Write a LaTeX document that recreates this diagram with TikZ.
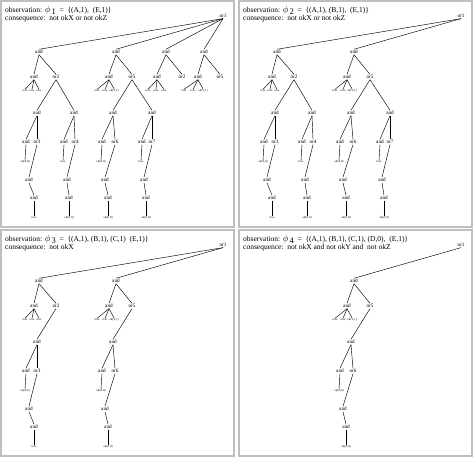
\documentclass[tikz,border=0pt]{standalone}
\usepackage{fontspec}
\setmainfont{Liberation Serif}

%% parts of the trees: name/label/x/y/style
\newcommand{\rootpart}{or1/or1/223/16/opnode}
\newcommand{\grpA}{a1/and/39/52/opnode, b1/and/34/77/opnode,
  b2/or2/56/77/opnode, l1/true/25/91/leafnode, l2/true/32/91/leafnode,
  l3/true/39/91/leafnode}
\newcommand{\grpAedges}{or1/a1, a1/b1, a1/b2, b1/l1, b1/l2, b1/l3}
\newcommand{\grpB}{a2/and/116/52/opnode, b3/and/109/77/opnode,
  b4/or5/132/77/opnode, l4/true/97/91/leafnode, l5/true/105/91/leafnode,
  l6/{ok(Y,1)}/114/91/leafnode}
\newcommand{\grpBedges}{or1/a2, a2/b3, a2/b4, b3/l4, b3/l5, b3/l6}
\newcommand{\grpC}{a3/and/166/52/opnode, b5/and/157/77/opnode,
  b6/or2/182/77/opnode, l7/true/148/91/leafnode, l8/true/156/91/leafnode,
  l9/true/164/91/leafnode, a4/and/204/52/opnode, b7/and/198/77/opnode,
  b8/or5/220/77/opnode, l10/true/184/91/leafnode, l11/true/193/91/leafnode,
  l12/{ok(Y,1)}/203/91/leafnode}
\newcommand{\grpCedges}{or1/a3, a3/b5, a3/b6, b5/l7, b5/l8, b5/l9,
  or1/a4, a4/b7, a4/b8, b7/l10, b7/l11, b7/l12}
\newcommand{\chainA}{c1/and/37/113/opnode, d1/and/26/142/opnode,
  d2/or3/37/142/opnode, e1/{ok(X,0)}/25/162/leafnode, f1/and/29/180/opnode,
  g1/and/34/198/opnode, h1/true/34/218/leafnode}
\newcommand{\chainAedges}{b2/c1, c1/d1, c1/d2, d1/e1, d2/f1, f1/g1, g1/h1}
\newcommand{\chainB}{c2/and/74/113/opnode, d3/and/64/142/opnode,
  d4/or4/75/142/opnode, e2/true/63/162/leafnode, f2/and/67/180/opnode,
  g2/and/69/198/opnode, h2/{ok(Z,0)}/69/218/leafnode}
\newcommand{\chainBedges}{b2/c2, c2/d3, c2/d4, d3/e2, d4/f2, f2/g2, g2/h2}
\newcommand{\chainC}{c3/and/113/113/opnode, d5/and/102/142/opnode,
  d6/or6/115/142/opnode, e3/{ok(X,0)}/101/162/leafnode, f3/and/105/180/opnode,
  g3/and/108/198/opnode, h3/{ok(Z,0)}/108/218/leafnode}
\newcommand{\chainCedges}{b4/c3, c3/d5, c3/d6, d5/e3, d6/f3, f3/g3, g3/h3}
\newcommand{\chainD}{c4/and/152/113/opnode, d7/and/142/142/opnode,
  d8/or7/152/142/opnode, e4/true/141/162/leafnode, f4/and/144/180/opnode,
  g4/and/146/198/opnode, h4/{ok(Z,0)}/146/218/leafnode}
\newcommand{\chainDedges}{b4/c4, c4/d7, c4/d8, d7/e4, d8/f4, f4/g4, g4/h4}

\newcommand{\drawnodes}[2]{%
  \foreach \nodename/\txt/\x/\y/\kind in #2
  {
    \node (#1\nodename) at (\x,\y) [\kind] {\txt};
  }%
}
\newcommand{\drawedges}[2]{%
  \path
  \foreach \startnode/\endnode in #2 {
    (#1\startnode.south) edge[linedecorate] (#1\endnode.north)
  };%
}
\newcommand{\obsphi}[1]{{\fontsize{9.5}{9.5}\selectfont$\phi$}\,%
  \raisebox{-2pt}{\fontsize{8.5}{8.5}\selectfont #1}}

\begin{document}
\begin{tikzpicture}
[x=1pt, y=-1pt,
  opnode/.style={font=\fontsize{5.2}{5.2}\selectfont, inner sep=0.7pt},
  leafnode/.style={font=\fontsize{3}{3}\selectfont, inner sep=0.6pt},
  headtext/.style={anchor=west, inner sep=0pt, font=\fontsize{7.5}{8}\selectfont},
  linedecorate/.style={-, line width=0.45pt},
  panelframe/.style={draw=gray!50, line width=1.5pt}]
\useasboundingbox (0,0) rectangle (474,458);
%% panel 1
\begin{scope}
  \draw[panelframe] (1,1) rectangle (234,227);
  \node (p1obs) [headtext] at (5,10)
    {observation: \obsphi{1}\ \ =\ \ \{(A,1),\ \ (E,1)\}};
  \node (p1cons) [headtext] at (5,19) {consequence:\ \ not okX or not okZ};
  \drawnodes{p1}{\rootpart}
  \drawnodes{p1}{\grpA}   \drawedges{p1}{\grpAedges}
  \drawnodes{p1}{\grpB}   \drawedges{p1}{\grpBedges}
  \drawnodes{p1}{\grpC}   \drawedges{p1}{\grpCedges}
  \drawnodes{p1}{\chainA} \drawedges{p1}{\chainAedges}
  \drawnodes{p1}{\chainB} \drawedges{p1}{\chainBedges}
  \drawnodes{p1}{\chainC} \drawedges{p1}{\chainCedges}
  \drawnodes{p1}{\chainD} \drawedges{p1}{\chainDedges}
\end{scope}
%% panel 2
\begin{scope}[shift={(238,0)}]
  \draw[panelframe] (1,1) rectangle (234,227);
  \node (p2obs) [headtext] at (5,10)
    {observation: \obsphi{2}\ \ =\ \ \{(A,1), (B,1),\ \ (E,1)\}};
  \node (p2cons) [headtext] at (5,19) {consequence:\ \ not okX or not okZ};
  \drawnodes{p2}{\rootpart}
  \drawnodes{p2}{\grpA}   \drawedges{p2}{\grpAedges}
  \drawnodes{p2}{\grpB}   \drawedges{p2}{\grpBedges}
  \drawnodes{p2}{\chainA} \drawedges{p2}{\chainAedges}
  \drawnodes{p2}{\chainB} \drawedges{p2}{\chainBedges}
  \drawnodes{p2}{\chainC} \drawedges{p2}{\chainCedges}
  \drawnodes{p2}{\chainD} \drawedges{p2}{\chainDedges}
\end{scope}
%% panel 3
\begin{scope}[shift={(0,229)}]
  \draw[panelframe] (1,1) rectangle (234,227);
  \node (p3obs) [headtext] at (5,10)
    {observation: \obsphi{3}\ \ =\ \ \{(A,1), (B,1), (C,1)\ \ (E,1)\}};
  \node (p3cons) [headtext] at (5,19) {consequence:\ \ not okX};
  \drawnodes{p3}{\rootpart}
  \drawnodes{p3}{\grpA}   \drawedges{p3}{\grpAedges}
  \drawnodes{p3}{\grpB}   \drawedges{p3}{\grpBedges}
  \drawnodes{p3}{\chainA} \drawedges{p3}{\chainAedges}
  \drawnodes{p3}{\chainC} \drawedges{p3}{\chainCedges}
\end{scope}
%% panel 4
\begin{scope}[shift={(238,229)}]
  \draw[panelframe] (1,1) rectangle (234,227);
  \node (p4obs) [headtext] at (5,10)
    {observation: \obsphi{4}\ \ =\ \ \{(A,1), (B,1), (C,1), (D,0),\ \ (E,1)\}};
  \node (p4cons) [headtext] at (5,19)
    {consequence:\ \ not okX and not okY and\ \ not okZ};
  \drawnodes{p4}{\rootpart}
  \drawnodes{p4}{\grpB}   \drawedges{p4}{\grpBedges}
  \drawnodes{p4}{\chainC} \drawedges{p4}{\chainCedges}
\end{scope}
\end{tikzpicture}
\end{document}
